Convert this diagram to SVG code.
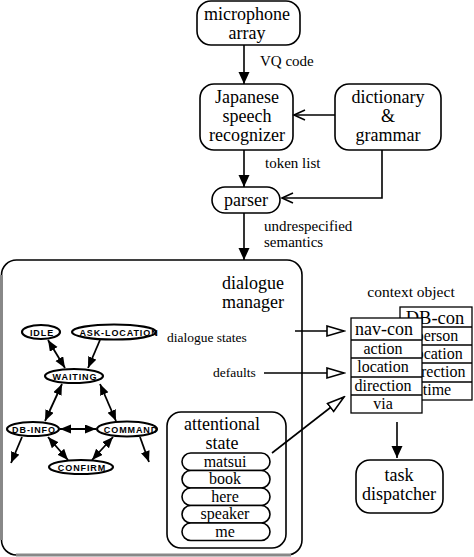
<svg xmlns="http://www.w3.org/2000/svg" width="474" height="557" viewBox="0 0 474 557">
<defs>
<style>
.box{fill:#fff;stroke:#000;stroke-width:1.6}
.t{font-family:"Liberation Serif",serif;font-size:18px;text-anchor:middle;fill:#000}
.lbl{font-family:"Liberation Serif",serif;font-size:15px;fill:#000}
.row{font-family:"Liberation Serif",serif;font-size:16px;text-anchor:middle;fill:#000}
.st{fill:#fff;stroke:#000;stroke-width:2.2}
.sl{font-family:"Liberation Sans",sans-serif;font-weight:bold;font-size:9px;text-anchor:middle;letter-spacing:0.9px;fill:#000}
.ln{stroke:#000;stroke-width:1.6;fill:none}
.sln{stroke:#000;stroke-width:1.8;fill:none}
.rl{stroke:#000;stroke-width:1.3}
</style>
<marker id="fa" markerUnits="userSpaceOnUse" markerWidth="12" markerHeight="12" refX="12" refY="5.5" orient="auto"><path d="M0,0 L12,5.5 L0,11 z" fill="#000"/></marker>
<marker id="vee" markerUnits="userSpaceOnUse" markerWidth="14" markerHeight="14" refX="12" refY="6" orient="auto"><path d="M1,1 L12,6 L1,11" fill="none" stroke="#000" stroke-width="1.6"/></marker>
<marker id="tri" markerUnits="userSpaceOnUse" markerWidth="20" markerHeight="14" refX="18" refY="6" orient="auto"><path d="M1,1 L18,6 L1,11 z" fill="#fff" stroke="#000" stroke-width="1.6"/></marker>
<marker id="sa" markerUnits="userSpaceOnUse" markerWidth="12" markerHeight="10" refX="11" refY="4.5" orient="auto-start-reverse"><path d="M0,0 L11,4.5 L0,9 z" fill="#000"/></marker>
</defs>
<rect width="474" height="557" fill="#fff"/>

<g id="dialogue-manager">
<rect x="1.5" y="260" width="300.5" height="295" rx="15" class="box"/>
<line x1="1.5" y1="275" x2="1.5" y2="540" stroke="#888" stroke-width="3"/>
<line x1="16" y1="555" x2="291" y2="555" stroke="#888" stroke-width="3"/>
<text class="t" x="253" y="289">dialogue</text>
<text class="t" x="253" y="308">manager</text>
</g>

<g id="microphone-array">
<rect x="197" y="1" width="103" height="44" rx="14" class="box"/>
<text class="t" x="247" y="20">microphone</text>
<text class="t" x="247" y="39">array</text>
</g>

<g id="speech-recognizer">
<rect x="200" y="84" width="93" height="66" rx="14" class="box"/>
<text class="t" x="247" y="103">Japanese</text>
<text class="t" x="247" y="122">speech</text>
<text class="t" x="247" y="141">recognizer</text>
</g>

<g id="dictionary-grammar">
<rect x="335" y="84" width="106" height="66" rx="14" class="box"/>
<text class="t" x="388" y="103">dictionary</text>
<text class="t" x="388" y="122">&amp;</text>
<text class="t" x="388" y="141">grammar</text>
</g>

<g id="parser">
<rect x="212" y="187" width="68" height="26" rx="13" class="box"/>
<text class="t" x="246" y="206">parser</text>
</g>

<g id="attentional-state">
<rect x="167" y="412" width="119" height="136" rx="14" class="box"/>
<text class="t" x="222" y="430">attentional</text>
<text class="t" x="222" y="449">state</text>
<rect x="182" y="453" width="88" height="17.5" rx="8.75" class="box"/>
<text class="row" x="225" y="466.5">matsui</text>
<rect x="182" y="470.5" width="88" height="17.5" rx="8.75" class="box"/>
<text class="row" x="225" y="484">book</text>
<rect x="182" y="488" width="88" height="17.5" rx="8.75" class="box"/>
<text class="row" x="225" y="501.5">here</text>
<rect x="182" y="505.5" width="88" height="17.5" rx="8.75" class="box"/>
<text class="row" x="225" y="519">speaker</text>
<rect x="182" y="523" width="88" height="17.5" rx="8.75" class="box"/>
<text class="row" x="225" y="536.5">me</text>
</g>

<g id="context-object">
<text class="lbl" x="411" y="297" text-anchor="middle" style="font-size:15.5px">context object</text>
</g>

<g id="db-con">
<rect x="400" y="307" width="72" height="93" fill="#fff" stroke="#000" stroke-width="1.3"/>
<line class="rl" x1="400" y1="327" x2="472" y2="327"/>
<line class="rl" x1="400" y1="345" x2="472" y2="345"/>
<line class="rl" x1="400" y1="363" x2="472" y2="363"/>
<line class="rl" x1="400" y1="382" x2="472" y2="382"/>
<text class="t" x="435" y="324" style="font-size:18.5px">DB-con</text>
<text class="row" x="437" y="341">person</text>
<text class="row" x="437" y="359">location</text>
<text class="row" x="437" y="377">direction</text>
<text class="row" x="437" y="395">time</text>
</g>

<g id="nav-con">
<rect x="351" y="318" width="71" height="95" fill="#fff" stroke="#000" stroke-width="1.3"/>
<line class="rl" x1="351" y1="340" x2="422" y2="340"/>
<line class="rl" x1="351" y1="358" x2="422" y2="358"/>
<line class="rl" x1="351" y1="377" x2="422" y2="377"/>
<line class="rl" x1="351" y1="395" x2="422" y2="395"/>
<text class="t" x="384" y="335">nav-con</text>
<text class="row" x="383" y="354">action</text>
<text class="row" x="383" y="372">location</text>
<text class="row" x="383" y="391">direction</text>
<text class="row" x="383" y="409">via</text>
</g>

<g id="task-dispatcher">
<rect x="356" y="460" width="87" height="53" rx="14" class="box"/>
<text class="t" x="399" y="481">task</text>
<text class="t" x="399" y="500">dispatcher</text>
</g>

<g id="state-idle"><ellipse cx="41" cy="332" rx="19" ry="7" class="st"/><text class="sl" x="42" y="335.5">IDLE</text></g>
<g id="state-ask-location"><ellipse cx="114" cy="332" rx="42" ry="7.5" class="st"/><text class="sl" x="119" y="335.5">ASK-LOCATION</text></g>
<g id="state-waiting"><ellipse cx="74" cy="376" rx="29" ry="7" class="st"/><text class="sl" x="75" y="379.5">WAITING</text></g>
<g id="state-db-info"><ellipse cx="33" cy="429" rx="26" ry="7" class="st"/><text class="sl" x="34" y="432.5">DB-INFO</text></g>
<g id="state-command"><ellipse cx="127" cy="429" rx="30" ry="7.5" class="st"/><text class="sl" x="131" y="432.5">COMMAND</text></g>
<g id="state-confirm"><ellipse cx="81" cy="467" rx="32" ry="7" class="st"/><text class="sl" x="82" y="470.5">CONFIRM</text></g>

<g id="labels">
<text class="lbl" x="260" y="66">VQ code</text>
<text class="lbl" x="265" y="168">token list</text>
<text class="lbl" x="264" y="231">undrespecified</text>
<text class="lbl" x="264" y="247">semantics</text>
<text class="lbl" x="167" y="342" style="font-size:13.5px">dialogue states</text>
<text class="lbl" x="213" y="377" style="font-size:13.5px">defaults</text>
</g>

<g id="connectors">
<line class="ln" x1="244" y1="45" x2="244" y2="84" marker-end="url(#fa)"/>
<line class="ln" x1="244" y1="150" x2="244" y2="187" marker-end="url(#fa)"/>
<line class="ln" x1="244" y1="213" x2="244" y2="260" marker-end="url(#fa)"/>
<line class="ln" x1="335" y1="115" x2="294" y2="115" marker-end="url(#vee)"/>
<polyline class="ln" points="382,150 382,198 282,198" marker-end="url(#vee)"/>
<line class="ln" x1="295" y1="331" x2="344" y2="331" marker-end="url(#tri)"/>
<line class="ln" x1="264" y1="373" x2="344" y2="373" marker-end="url(#tri)"/>
<line class="ln" x1="272" y1="453" x2="344" y2="397" marker-end="url(#tri)"/>
<line class="ln" x1="397" y1="422" x2="397" y2="458" marker-end="url(#fa)"/>
<line class="sln" x1="48" y1="340" x2="65" y2="368" marker-start="url(#sa)" marker-end="url(#sa)"/>
<line class="sln" x1="100" y1="340" x2="88" y2="368" marker-end="url(#sa)"/>
<line class="sln" x1="62" y1="384" x2="45" y2="421" marker-start="url(#sa)" marker-end="url(#sa)"/>
<line class="sln" x1="100" y1="384" x2="116" y2="421" marker-start="url(#sa)" marker-end="url(#sa)"/>
<line class="sln" x1="60" y1="429" x2="96" y2="429" marker-start="url(#sa)" marker-end="url(#sa)"/>
<line class="sln" x1="48" y1="437" x2="68" y2="460" marker-start="url(#sa)" marker-end="url(#sa)"/>
<line class="sln" x1="113" y1="437" x2="92" y2="460" marker-start="url(#sa)" marker-end="url(#sa)"/>
<line class="sln" x1="22" y1="437" x2="11" y2="463" marker-end="url(#sa)"/>
<line class="sln" x1="140" y1="437" x2="149" y2="462" marker-end="url(#sa)"/>
</g>
</svg>
